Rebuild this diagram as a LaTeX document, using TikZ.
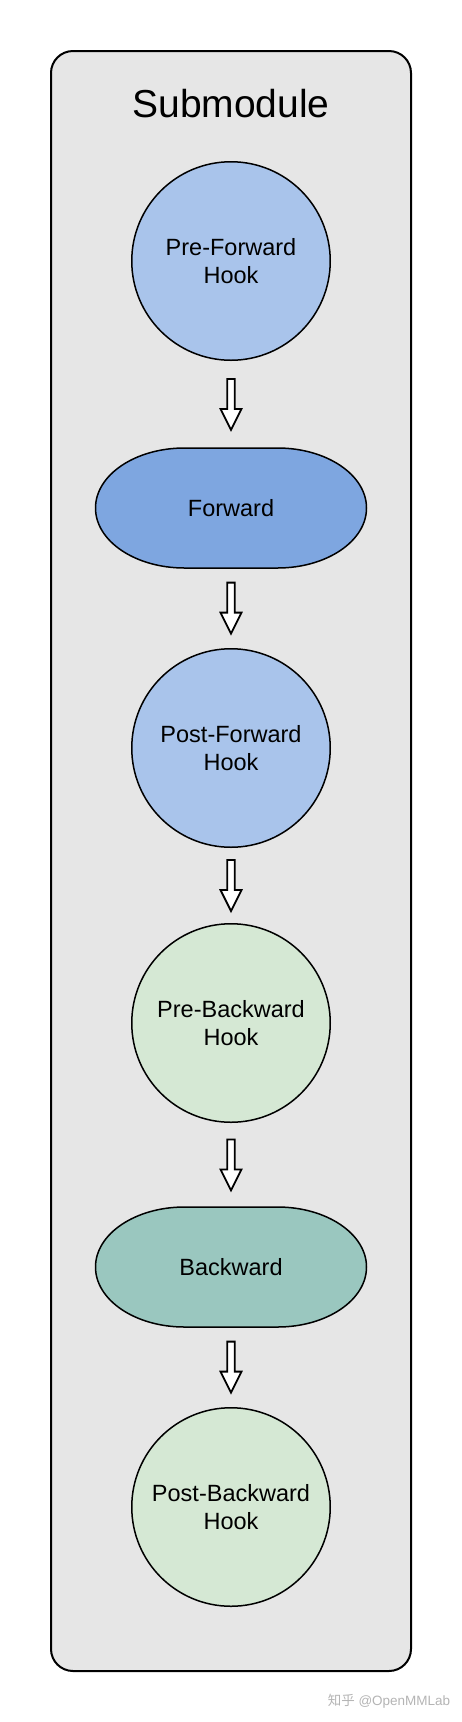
\documentclass[tikz,border=0pt]{standalone}
\usepackage{fontspec}
\setmainfont{Liberation Sans}
\newfontfamily\cjkfont{Noto Sans CJK SC}
\usetikzlibrary{calc}

\definecolor{modulegray}{HTML}{E6E6E6}
\definecolor{fwdlight}{HTML}{A9C4EB}
\definecolor{fwddark}{HTML}{7EA6E0}
\definecolor{bwdlight}{HTML}{D5E8D4}
\definecolor{bwddark}{HTML}{9AC7BF}
\definecolor{creditgray}{HTML}{B4B4B4}

% pill shaped step (flat top, elliptic ends)
\newcommand\pillshape[2]{
        \draw [pill line, fill=#2] ($(#1)+(-46.5,-60)$) -- ++(93,0)
          arc[start angle=-90, end angle=90, x radius=89, y radius=60]
          -- ++(-93,0)
          arc[start angle=90, end angle=270, x radius=89, y radius=60] -- cycle;
}
% hollow arrow centred in the gap between two steps
\newcommand\hollowdown[2]{
        \draw [hollow arrow] let \p1=($(#1.south)!0.5!(#2.north)$) in
          (\x1-3.7pt,\y1+25.5pt) -- (\x1+3.7pt,\y1+25.5pt) -- (\x1+3.7pt,\y1-4.5pt)
          -- (\x1+10.5pt,\y1-4.5pt) -- (\x1,\y1-25.5pt) -- (\x1-10.5pt,\y1-4.5pt)
          -- (\x1-3.7pt,\y1-4.5pt) -- cycle;
}

\begin{document}
\begin{tikzpicture}[x=1pt, y=-1pt,
        label font/.style={font=\fontsize{23.5}{28}\selectfont},
        module box/.style={draw, line width=2pt, fill=modulegray, rounded corners=22pt,
          minimum width=360, minimum height=1620, inner sep=0pt},
        hook/.style={circle, draw, line width=1.5pt, minimum size=198.5, inner sep=0pt,
          align=center, label font},
        pill line/.style={draw, line width=1.5pt},
        pill text/.style={rectangle, minimum width=271, minimum height=120, inner sep=0pt, label font},
        hollow arrow/.style={draw, line width=1.8pt, fill=white, line join=miter}
        ]
        \useasboundingbox (0,0) rectangle (462,1722);
        \node [module box] (sub) at (231,861) {};
        \node [anchor=base, font=\fontsize{39}{42}\selectfont] (title) at (231,117) {Submodule};

        \node [hook, fill=fwdlight] (prefwd) at (231,261) {Pre-Forward\\Hook};
        \coordinate (fwdc) at (231,508);
        \pillshape{fwdc}{fwddark}
        \node [pill text] (fwd) at (fwdc) {Forward};
        \node [hook, fill=fwdlight] (postfwd) at (231,748) {Post-Forward\\Hook};
        \node [hook, fill=bwdlight] (prebwd) at (231,1023) {Pre-Backward\\Hook};
        \coordinate (bwdc) at (231,1267);
        \pillshape{bwdc}{bwddark}
        \node [pill text] (bwd) at (bwdc) {Backward};
        \node [hook, fill=bwdlight] (postbwd) at (231,1507) {Post-Backward\\Hook};

        \hollowdown{prefwd}{fwd}
        \hollowdown{fwd}{postfwd}
        \hollowdown{postfwd}{prebwd}
        \hollowdown{prebwd}{bwd}
        \hollowdown{bwd}{postbwd}

        \node [text=creditgray, font=\fontsize{13.5}{15}\selectfont] (credit) at (389,1701)
          {{\cjkfont 知乎} @OpenMMLab};
\end{tikzpicture}
\end{document}
